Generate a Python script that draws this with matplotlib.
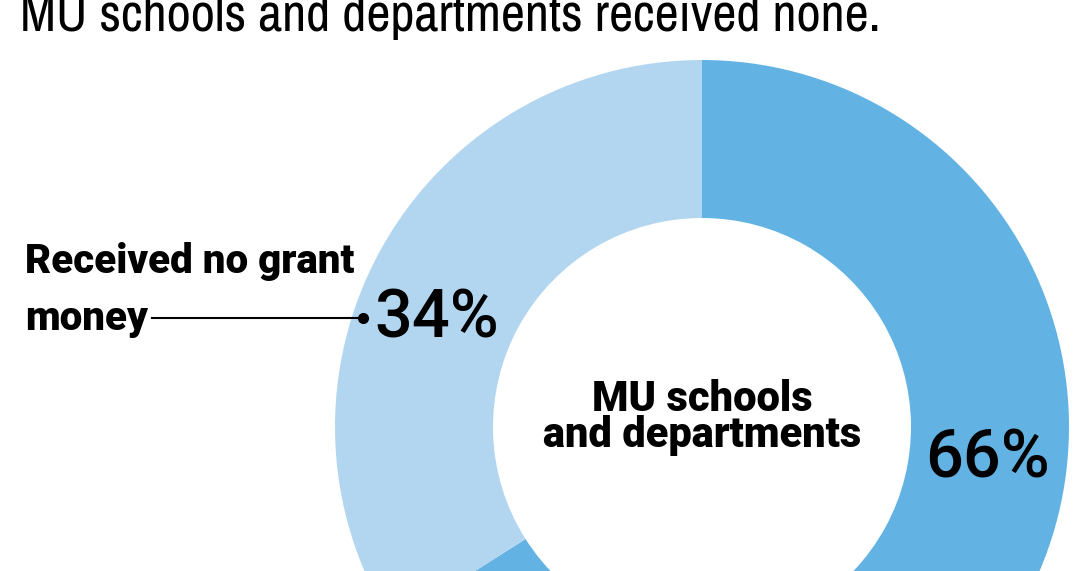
import matplotlib.pyplot as plt

# Data
labels = ['MU schools and departments', 'Received no grant money']
shares = [66, 34]
colors = ['#62b3e3', '#b3d6f0']
title = 'MU schools and departments received none.'

W, H = 1088, 571
fig = plt.figure(figsize=(W / 100, H / 100), dpi=100)
ax = fig.add_axes([0, 0, 1, 1])

cx, cy = 702, H - 427
r_out, r_in = 367, 209
ax.pie(shares, colors=colors, startangle=90, counterclock=False,
       center=(cx, cy), radius=r_out, frame=True,
       wedgeprops=dict(width=r_out - r_in, linewidth=0))
ax.set_xlim(0, W)
ax.set_ylim(0, H)
ax.set_aspect('equal')
ax.axis('off')

narrow = ['Archivo Narrow', 'PT Sans Narrow', 'DejaVu Sans']
boldf = ['Roboto', 'DejaVu Sans']
reg = ['Roboto', 'DejaVu Sans']

# title line (cropped at top, as in the original)
ax.text(20, H - 31, title, family=narrow, fontsize=38, va='baseline', ha='left')

# center label
ax.text(cx, H - 411, 'MU schools', family=boldf, weight=900, fontsize=30,
        ha='center', va='baseline')
ax.text(cx, H - 447, 'and departments', family=boldf, weight=900, fontsize=30,
        ha='center', va='baseline')

# percentages
ax.text(374, H - 338, f'{shares[1]}%', family=reg, weight=500, fontsize=48,
        va='baseline', ha='left')
ax.text(925, H - 477, f'{shares[0]}%', family=reg, weight=500, fontsize=48,
        va='baseline', ha='left')

# annotation for light slice
ax.text(25, H - 273, 'Received no grant', family=boldf, weight=900, fontsize=29,
        va='baseline', ha='left')
ax.text(25, H - 330, 'money', family=boldf, weight=900, fontsize=29,
        va='baseline', ha='left')
ax.plot([152, 363], [H - 318, H - 318], color='black', linewidth=1.5)
ax.plot([363], [H - 318], 'o', color='black', markersize=7)

fig.savefig('out.png', dpi=100)
